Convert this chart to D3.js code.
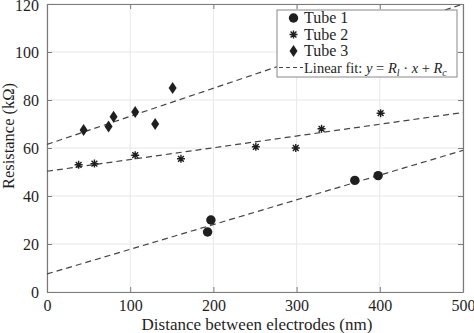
<!DOCTYPE html>
<html><head><meta charset="utf-8">
<script src="https://cdn.jsdelivr.net/npm/d3@7"></script>
<style>body{margin:0;background:#fff}svg{display:block}</style>
</head><body>
<script>
const tube1X = [193, 197, 370, 398];
const tube1Y = [25, 30, 46.5, 48.5];
const tube2X = [38, 57, 106, 161, 251, 299, 330, 401];
const tube2Y = [53, 53.5, 57, 55.5, 60.5, 60, 68, 74.5];
const tube3X = [44, 74, 80, 106, 130, 151];
const tube3Y = [67.5, 69, 73, 75, 70, 85];
const fitIntercepts = [7.5, 50.3, 61.5];
const fitSlopes = [0.103, 0.049, 0.117];
const xTicks = [0, 100, 200, 300, 400, 500];
const yTicks = [0, 20, 40, 60, 80, 100, 120];
const legendLabels = ["Tube 1", "Tube 2", "Tube 3"];

(function () {
const W = 474, H = 333;
const m = {l: 47, r: 11, t: 4, b: 41};
const svg = d3.select("body").append("svg").attr("width", W).attr("height", H);
const x = d3.scaleLinear().domain([0, 500]).range([m.l, W - m.r]);
const y = d3.scaleLinear().domain([0, 120]).range([H - m.b, m.t]);
const font = "'Liberation Serif', 'Times New Roman', serif";
const ink = "#1f1f1f";

// grid
const g = svg.append("g");
g.selectAll(".gx").data(xTicks).enter().append("line")
  .attr("x1", d => x(d)).attr("x2", d => x(d)).attr("y1", y(0)).attr("y2", y(120))
  .attr("stroke", "#e8e8e8").attr("stroke-width", 1);
g.selectAll(".gy").data(yTicks).enter().append("line")
  .attr("y1", d => y(d)).attr("y2", d => y(d)).attr("x1", x(0)).attr("x2", x(500))
  .attr("stroke", "#e8e8e8").attr("stroke-width", 1);

// axes
const axCol = "#7a7a7a";
const axB = svg.append("g").attr("transform", `translate(0,${y(0)})`)
  .call(d3.axisBottom(x).tickValues(xTicks).tickSizeInner(-5).tickSizeOuter(0).tickPadding(8));
const axL = svg.append("g").attr("transform", `translate(${x(0)},0)`)
  .call(d3.axisLeft(y).tickValues(yTicks).tickSizeInner(-5).tickSizeOuter(0).tickPadding(8));
const axT = svg.append("g").attr("transform", `translate(0,${y(120)})`)
  .call(d3.axisTop(x).tickValues(xTicks).tickSizeInner(-5).tickSizeOuter(0).tickFormat(""));
const axR = svg.append("g").attr("transform", `translate(${x(500)},0)`)
  .call(d3.axisRight(y).tickValues(yTicks).tickSizeInner(-5).tickSizeOuter(0).tickFormat(""));
[axB, axL, axT, axR].forEach(a => {
  a.selectAll("path").attr("stroke", axCol).attr("stroke-width", 1.2);
  a.selectAll("line").attr("stroke", axCol);
  a.selectAll("text").style("font-family", font).style("font-size", "16px").attr("fill", ink);
});
axL.selectAll("text").filter(d => d === 120).attr("dy", "0.42em");

// fit lines
svg.append("clipPath").attr("id", "c").append("rect")
  .attr("x", x(0)).attr("y", y(120)).attr("width", x(500) - x(0)).attr("height", y(0) - y(120));
const fits = fitIntercepts.map((b, i) => ({b, s: fitSlopes[i]}));
svg.append("g").attr("clip-path", "url(#c)").selectAll("line").data(fits).enter().append("line")
  .attr("x1", x(0)).attr("y1", d => y(d.b)).attr("x2", x(500)).attr("y2", d => y(d.b + d.s * 500))
  .attr("stroke", "#444").attr("stroke-width", 1.2).attr("stroke-dasharray", "6,4");

// markers
const circ = d3.symbol().type(d3.symbolCircle).size(70);
const diamond = "M0,-6L4,0L0,6L-4,0Z";
const star = "M0,-4V4M-4,0H4M-2.9,-2.9L2.9,2.9M-2.9,2.9L2.9,-2.9";
svg.append("g").selectAll("path").data(tube1X).enter().append("path")
  .attr("d", circ()).attr("transform", (d, i) => `translate(${x(d)},${y(tube1Y[i])})`).attr("fill", ink);
svg.append("g").selectAll("path").data(tube2X).enter().append("path")
  .attr("d", star).attr("transform", (d, i) => `translate(${x(d)},${y(tube2Y[i])})`)
  .attr("stroke", ink).attr("stroke-width", 1.4).attr("fill", "none");
svg.append("g").selectAll("path").data(tube3X).enter().append("path")
  .attr("d", diamond).attr("transform", (d, i) => `translate(${x(d)},${y(tube3Y[i])})`).attr("fill", ink);

// axis titles
svg.append("text").attr("x", (x(0) + x(500)) / 2 + 2).attr("y", 329.5).attr("text-anchor", "middle")
  .style("font-family", font).style("font-size", "17px").attr("fill", ink).text("Distance between electrodes (nm)");
svg.append("text").attr("transform", `translate(14,${(y(0) + y(120)) / 2 - 12}) rotate(-90)`)
  .attr("text-anchor", "middle").style("font-family", font).style("font-size", "16.5px").attr("fill", ink)
  .text("Resistance (kΩ)");

// legend
const lg = svg.append("g");
lg.append("rect").attr("x", 277).attr("y", 10).attr("width", 180).attr("height", 67)
  .attr("fill", "#fff").attr("stroke", "#888").attr("stroke-width", 1);
const ly = [18, 34.5, 51, 67.5];
lg.append("path").attr("d", circ()).attr("transform", `translate(293.5,${ly[0]})`).attr("fill", ink);
lg.append("path").attr("d", star).attr("transform", `translate(293.5,${ly[1]})`)
  .attr("stroke", ink).attr("stroke-width", 1.4).attr("fill", "none");
lg.append("path").attr("d", diamond).attr("transform", `translate(293.5,${ly[2]})`).attr("fill", ink);
lg.append("line").attr("x1", 279).attr("x2", 303).attr("y1", ly[3]).attr("y2", ly[3])
  .attr("stroke", "#444").attr("stroke-width", 1.2).attr("stroke-dasharray", "4,3");
legendLabels.forEach((t, i) => lg.append("text").attr("x", 304).attr("y", ly[i] + 5)
  .style("font-family", font).style("font-size", "16px").attr("fill", ink).text(t));
const lt = lg.append("text").attr("x", 304).attr("y", ly[3] + 5)
  .style("font-family", font).style("font-size", "14.5px").attr("fill", ink);
lt.append("tspan").text("Linear fit: ");
lt.append("tspan").attr("font-style", "italic").text("y");
lt.append("tspan").text(" = ");
lt.append("tspan").attr("font-style", "italic").text("R");
lt.append("tspan").attr("font-style", "italic").style("font-size", "10px").attr("dy", 3).text("l");
lt.append("tspan").attr("dy", -3).text(" · ");
lt.append("tspan").attr("font-style", "italic").text("x");
lt.append("tspan").text(" + ");
lt.append("tspan").attr("font-style", "italic").text("R");
lt.append("tspan").attr("font-style", "italic").style("font-size", "10px").attr("dy", 3).text("c");
})();
</script>
</body></html>
